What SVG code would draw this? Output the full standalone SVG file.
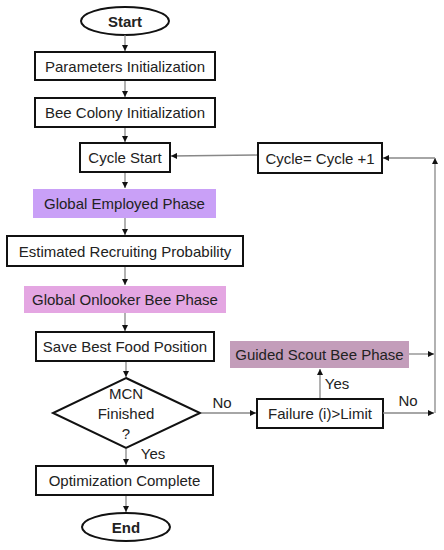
<svg xmlns="http://www.w3.org/2000/svg" width="444" height="550" viewBox="0 0 444 550">
<defs>
<marker id="ah" viewBox="0 0 10 10" refX="10" refY="5" markerWidth="6" markerHeight="6" markerUnits="userSpaceOnUse" orient="auto"><path d="M0,0 L10,5 L0,10 z" fill="#111"/></marker>
<style>
.box{fill:#fff;stroke:#111;stroke-width:2}
.t{font-family:"Liberation Sans",Arial,sans-serif;font-size:15px;fill:#222;text-anchor:middle;dominant-baseline:central}
.b{font-weight:bold;font-size:15px}
.c{fill:none;stroke:#888;stroke-width:1.3;marker-end:url(#ah)}
.l{fill:none;stroke:#888;stroke-width:1.3}
</style>
</defs>
<rect width="444" height="550" fill="#fff"/>
<g id="start"><ellipse cx="125" cy="21" rx="44" ry="14" class="box"/><text x="125" y="21" class="t b">Start</text></g>
<g id="params"><rect x="35" y="52" width="180" height="28" class="box"/><text x="125" y="66" class="t">Parameters Initialization</text></g>
<g id="colony"><rect x="35" y="98" width="180" height="29" class="box"/><text x="125" y="112.5" class="t">Bee Colony Initialization</text></g>
<g id="cyclestart"><rect x="80" y="143" width="90" height="29" class="box"/><text x="125" y="157.5" class="t">Cycle Start</text></g>
<g id="employed"><rect x="33" y="189" width="183" height="29" fill="#c9a0f7"/><text x="124.5" y="203.5" class="t">Global Employed Phase</text></g>
<g id="recruit"><rect x="7" y="236" width="236" height="30" class="box"/><text x="125" y="251" class="t">Estimated Recruiting Probability</text></g>
<g id="onlooker"><rect x="24" y="286" width="202" height="27" fill="#e4a6e2"/><text x="125" y="299.5" class="t">Global Onlooker Bee Phase</text></g>
<g id="savebest"><rect x="36" y="332" width="178" height="29" class="box"/><text x="125" y="346.5" class="t">Save Best Food Position</text></g>
<g id="mcn"><polygon points="126,378 200,413 126,448 53,413" class="box"/><text x="126" y="393" class="t">MCN</text><text x="126" y="413" class="t">Finished</text><text x="126" y="433" class="t">?</text></g>
<g id="optcomplete"><rect x="36" y="466" width="177" height="29" class="box"/><text x="124.5" y="480.5" class="t">Optimization Complete</text></g>
<g id="end"><ellipse cx="126" cy="527" rx="44" ry="14" class="box"/><text x="126" y="527" class="t b">End</text></g>
<g id="cycleinc"><rect x="258" y="143" width="124" height="30" class="box"/><text x="320" y="158" class="t">Cycle= Cycle +1</text></g>
<g id="scout"><rect x="230" y="341" width="179" height="27" fill="#c39dba"/><text x="319.5" y="354.5" class="t">Guided Scout Bee Phase</text></g>
<g id="failure"><rect x="257" y="399" width="126" height="29" class="box"/><text x="320" y="413.5" class="t">Failure (i)&gt;Limit</text></g>
<g id="connectors">
<line x1="125" y1="35" x2="125" y2="51" class="c"/>
<line x1="125" y1="81" x2="125" y2="97" class="c"/>
<line x1="125" y1="128" x2="125" y2="142" class="c"/>
<line x1="125" y1="173" x2="125" y2="188" class="c"/>
<line x1="125" y1="218" x2="125" y2="235" class="c"/>
<line x1="125" y1="267" x2="125" y2="285" class="c"/>
<line x1="125" y1="313" x2="125" y2="331" class="c"/>
<line x1="126" y1="362" x2="126" y2="377" class="c"/>
<line x1="126" y1="449" x2="126" y2="465" class="c"/>
<line x1="126" y1="496" x2="126" y2="512" class="c"/>
<line x1="257" y1="155" x2="171" y2="156" class="c"/>
<line x1="201" y1="413" x2="256" y2="413" class="c"/>
<line x1="320" y1="398" x2="320" y2="369" class="c"/>
<line x1="409" y1="354" x2="434" y2="354" class="c"/>
<line x1="383" y1="413" x2="434" y2="413" class="c"/>
<line x1="435" y1="413" x2="435" y2="158" class="c"/>
<line x1="435" y1="158" x2="383" y2="158" class="c"/>
</g>
<g id="labels">
<text x="222" y="402" class="t">No</text>
<text x="408" y="400" class="t">No</text>
<text x="337" y="383" class="t">Yes</text>
<text x="153" y="453" class="t">Yes</text>
</g>
</svg>
